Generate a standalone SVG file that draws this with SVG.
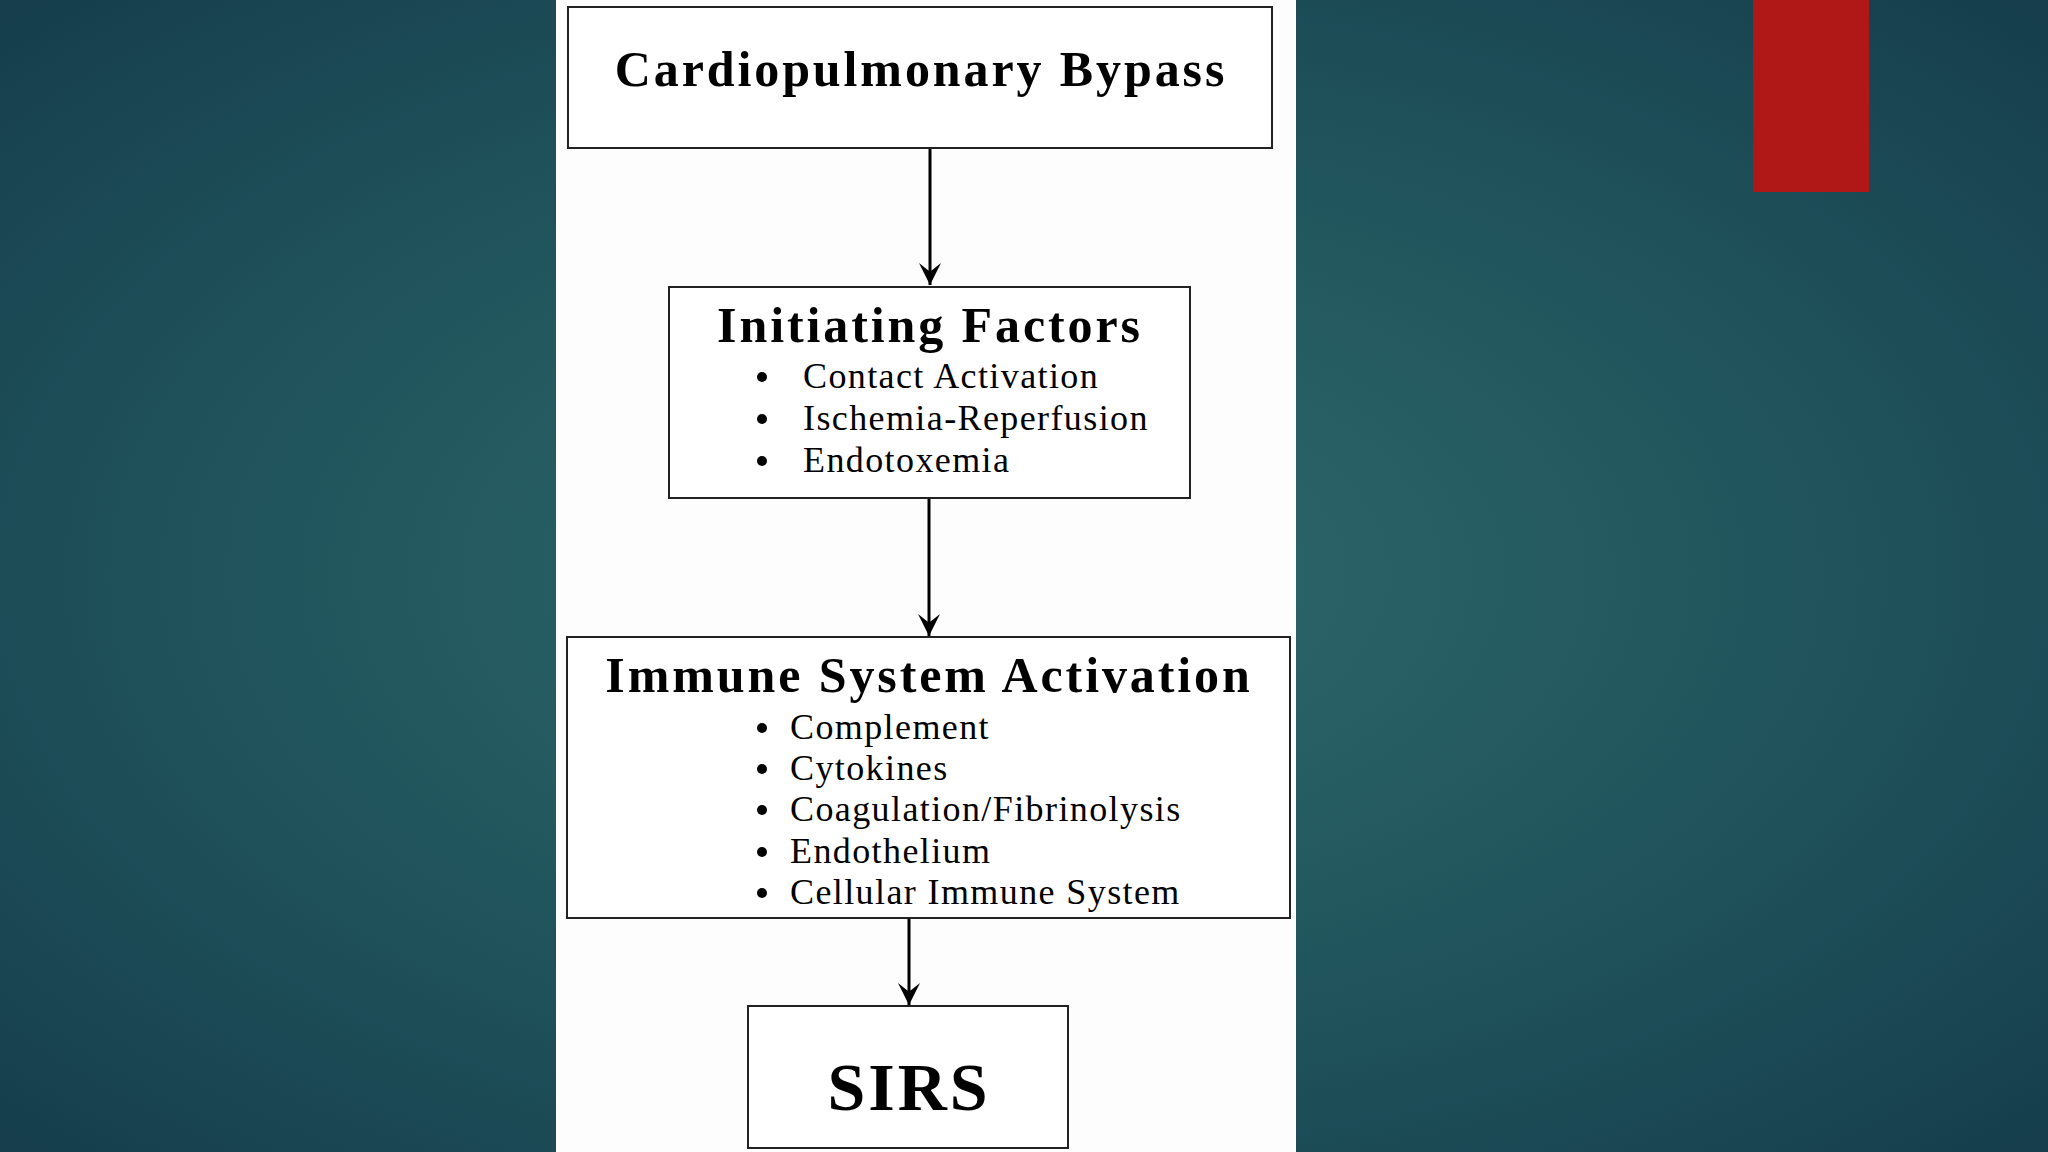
<svg xmlns="http://www.w3.org/2000/svg" width="2048" height="1152" viewBox="0 0 2048 1152">
<defs>
<radialGradient id="bg" cx="0.5" cy="0.5" r="0.75">
<stop offset="0" stop-color="#2e6a6c"/>
<stop offset="0.6" stop-color="#1e5059"/>
<stop offset="1" stop-color="#143a4a"/>
</radialGradient>
<marker id="ah" viewBox="0 0 10 10" refX="10" refY="5" markerWidth="22" markerHeight="22" markerUnits="userSpaceOnUse" orient="auto"><path d="M0,0 L10,5 L0,10 L4,5 z" fill="#000"/></marker>
<style>
.box{fill:#fff;stroke:#222;stroke-width:2}
.t{font-family:"Liberation Serif",serif;font-weight:bold;fill:#000;text-anchor:middle;letter-spacing:2.9px}
.b{font-family:"Liberation Serif",serif;font-size:36px;fill:#000;letter-spacing:1.4px}
.c{stroke:#000;stroke-width:3;fill:none}
.d{fill:#000}
</style>
</defs>
<rect width="2048" height="1152" fill="url(#bg)"/>
<rect x="1753" y="0" width="116" height="192" fill="#b01817"/>
<rect x="556" y="0" width="740" height="1152" fill="#fdfdfd"/>
<g id="connectors">
<path class="c" d="M930,148 V285" marker-end="url(#ah)"/>
<path class="c" d="M929,498 V636" marker-end="url(#ah)"/>
<path class="c" d="M909,918 V1005" marker-end="url(#ah)"/>
</g>
<g id="cpb"><rect class="box" x="568" y="7" width="704" height="141"/><text class="t" x="921" y="86" font-size="50">Cardiopulmonary Bypass</text></g>
<g id="init"><rect class="box" x="669" y="287" width="521" height="211"/><text class="t" x="930" y="342" font-size="50">Initiating Factors</text>
<circle class="d" cx="762" cy="377" r="5"/><circle class="d" cx="762" cy="419" r="5"/><circle class="d" cx="762" cy="461" r="5"/>
<g class="b"><text x="803" y="388">Contact Activation</text><text x="803" y="430">Ischemia-Reperfusion</text><text x="803" y="472">Endotoxemia</text></g></g>
<g id="immune"><rect class="box" x="567" y="637" width="723" height="281"/><text class="t" x="929" y="692" font-size="50">Immune System Activation</text>
<circle class="d" cx="762" cy="728" r="5"/><circle class="d" cx="762" cy="769" r="5"/><circle class="d" cx="762" cy="810" r="5"/><circle class="d" cx="762" cy="852" r="5"/><circle class="d" cx="762" cy="893" r="5"/>
<g class="b"><text x="790" y="739">Complement</text><text x="790" y="780">Cytokines</text><text x="790" y="821">Coagulation/Fibrinolysis</text><text x="790" y="863">Endothelium</text><text x="790" y="904">Cellular Immune System</text></g></g>
<g id="sirs"><rect class="box" x="748" y="1006" width="320" height="142"/><text class="t" x="909" y="1110" font-size="68" style="letter-spacing:3px">SIRS</text></g>
</svg>
